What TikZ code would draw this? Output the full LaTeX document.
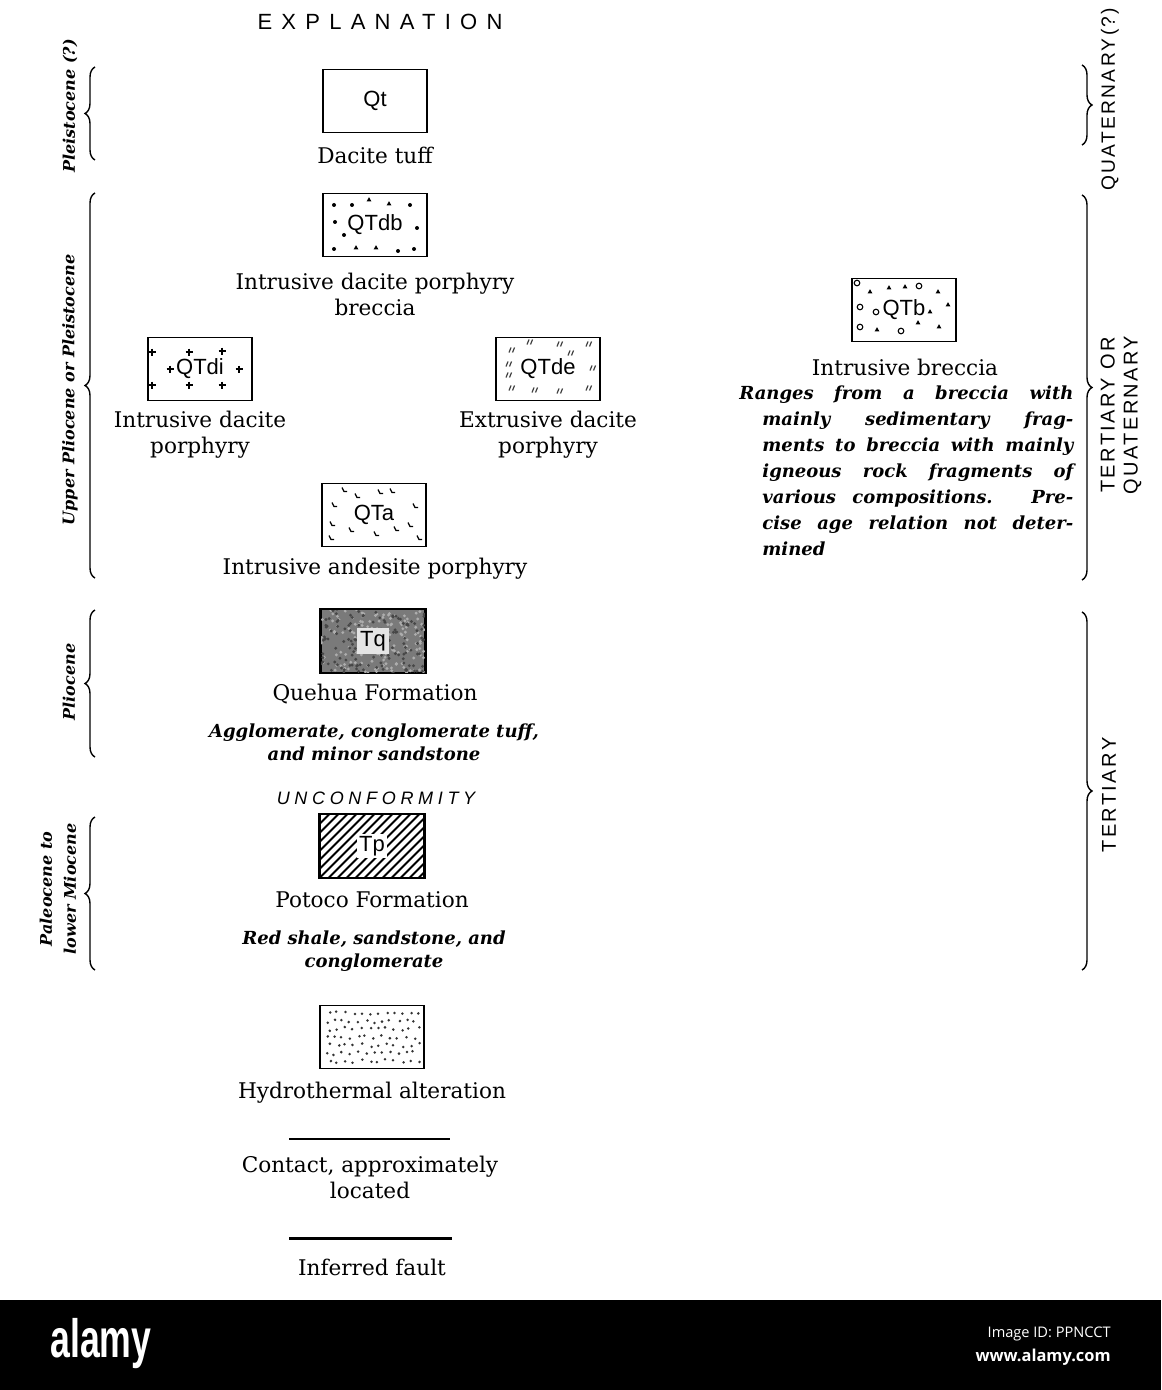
\documentclass[tikz,border=0pt]{standalone}
\usepackage{fontspec}
\setmainfont{DejaVu Serif}
\setsansfont{Liberation Sans}
\newfontfamily\titlefont[LetterSpace=42]{Liberation Sans}
\newfontfamily\unconffont[LetterSpace=26]{Liberation Sans}
\newfontfamily\erafont[LetterSpace=12]{Liberation Sans}
\newfontfamily\wmfont{Open Sans}
\usetikzlibrary{decorations.pathreplacing}
\newcommand\lgdot[2]{\fill (#1,#2) circle (1pt);}
\newcommand\lgtri[2]{\fill (#1,#2) ++(0,-2.8) -- ++(2.4,4.2) -- ++(-4.8,0) -- cycle;}
\newcommand\lgcirc[2]{\draw[line width=0.55pt] (#1,#2) circle (1.4pt);}
\newcommand\lgplus[2]{\draw[line width=0.65pt] (#1-3.5,#2) -- (#1+3.5,#2) (#1,#2-3.5) -- (#1,#2+3.5);}
\newcommand\lgdd[2]{\draw[line width=0.6pt, black!75] (#1-2,#2+2.5) -- (#1,#2-2.5) (#1+1.5,#2+2.5) -- (#1+3.5,#2-2.5);}
\newcommand\lgv[2]{\draw[line width=0.6pt] (#1-2,#2-2.5) -- (#1,#2+1.5) -- (#1+3,#2+1.5);}
\begin{document}
\begin{tikzpicture}[x=0.5pt,y=-0.5pt,
  legbox/.style={draw, line width=0.9pt, minimum width=52pt, minimum height=31.5pt, inner sep=0pt},
  code/.style={font=\sffamily\fontsize{11}{11}\selectfont, inner sep=1pt},
  lbl/.style={font=\fontsize{10.8}{13}\selectfont, align=center, inner sep=0pt},
  desc/.style={font=\fontsize{9}{11.5}\selectfont\bfseries\itshape, align=center, inner sep=0pt},
  agelbl/.style={font=\fontsize{8}{12}\selectfont\bfseries\itshape, rotate=90, align=center, inner sep=0pt},
  eralbl/.style={font=\erafont\fontsize{10}{11.5}\selectfont, rotate=90, align=center, inner sep=0pt},
  brace/.style={decorate, decoration={brace, amplitude=5pt}, line width=0.7pt},
  legline/.style={line width=#1}
]
\useasboundingbox (0,0) rectangle (1161,1390);
\fill[white] (0,0) rectangle (1161,1390);

% title
\node[font=\titlefont\fontsize{11}{11}\selectfont, inner sep=0pt] (title) at (380,22) {EXPLANATION};

% ---------------- Qt
\node[legbox] (Qt) at (375,101) {};
\node[code] (Qtl) at (Qt) {Qt};
\node[lbl] (Qtt) at (375,155) {Dacite tuff};

% ---------------- QTdb
\node[legbox] (QTdb) at (375,225) {};
\begin{scope}[shift={(QTdb.center)}]
  \lgdot{-41}{-20}\lgdot{-23}{-20}\lgtri{-6}{-25}\lgtri{14}{-21}\lgdot{35}{-20}
  \lgdot{-40}{-3}\lgdot{42}{3}\lgdot{-31}{10}
  \lgdot{-41}{24}\lgtri{-19}{23}\lgtri{1}{23}\lgdot{23}{26}\lgdot{39}{24}
\end{scope}
\node[code] (QTdbl) at (QTdb) {QTdb};
\node[lbl] (QTdbt) at (375,294) {Intrusive dacite porphyry\\breccia};

% ---------------- QTdi
\node[legbox] (QTdi) at (200,369) {};
\begin{scope}[shift={(QTdi.center)}]
  \lgplus{-11}{-17}\lgplus{22}{-18}\lgplus{-30}{0}\lgplus{39}{0}
  \lgplus{-11}{16}\lgplus{22}{16}\lgplus{-48}{-17}\lgplus{-48}{16}
\end{scope}
\node[code] (QTdil) at (QTdi) {QTdi};
\node[lbl] (QTdit) at (200,435) {Intrusive dacite\\porphyry};

% ---------------- QTde
\node[legbox] (QTde) at (548,369) {};
\begin{scope}[shift={(QTde.center)}]
  \lgdd{-37}{-19}\lgdd{-19}{-27}\lgdd{11}{-25}\lgdd{22}{-16}\lgdd{40}{-25}
  \lgdd{-40}{-5}\lgdd{-40}{6}\lgdd{44}{-1}
  \lgdd{-37}{19}\lgdd{-14}{21}\lgdd{11}{22}\lgdd{40}{19}
\end{scope}
\node[code] (QTdel) at (QTde) {QTde};
\node[lbl] (QTdet) at (548,435) {Extrusive dacite\\porphyry};

% ---------------- QTa
\node[legbox] (QTa) at (374,515) {};
\begin{scope}[shift={(QTa.center)}]
  \lgv{-30}{-25}\lgv{-17}{-19}\lgv{6}{-23}\lgv{18}{-24}
  \lgv{-40}{-10}\lgv{41}{-9}\lgv{-42}{9}\lgv{36}{10}
  \lgv{-23}{15}\lgv{2}{19}\lgv{22}{14}\lgv{-43}{23}\lgv{45}{23}
\end{scope}
\node[code] (QTal) at (QTa) {QTa};
\node[lbl] (QTat) at (375,569) {Intrusive andesite porphyry};

% ---------------- QTb
\node[legbox] (QTb) at (904,310) {};
\begin{scope}[shift={(QTb.center)}]
  \lgcirc{-47}{-27}\lgtri{-34}{-18}\lgtri{-15}{-22}\lgtri{1}{-23}\lgcirc{15}{-24}\lgtri{34}{-18}
  \lgcirc{-44}{-3}\lgcirc{-28}{2}\lgtri{26}{2}\lgtri{44}{-5}
  \lgcirc{-44}{17}\lgtri{-27}{20}\lgcirc{-3}{21}\lgtri{14}{13}\lgtri{35}{17}
\end{scope}
\node[code] (QTbl) at (QTb) {QTb};
\node[lbl] (QTbt) at (905,367) {Intrusive breccia};
\node[anchor=north west, text width=167pt, align=justify, inner sep=0pt,
      font=\fontsize{9}{13}\selectfont\bfseries\itshape] (QTbd) at (739,385)
  {\hangindent=11.5pt\hangafter=1 Ranges from a breccia with\linebreak
   mainly sedimentary frag-\linebreak
   ments to breccia with mainly\linebreak
   igneous rock fragments of\linebreak
   various compositions. Pre-\linebreak
   cise age relation not deter-\linebreak
   mined\par};

% ---------------- Tq
\node[legbox, fill=black!52] (Tq) at (373,641) {};
\begin{scope}
  \clip (Tq.south west) rectangle (Tq.north east);
  \pgfmathsetseed{11}
  \foreach \k in {1,...,140}{
    \pgfmathsetmacro\rx{rand*52}\pgfmathsetmacro\ry{rand*32}
    \fill[black!32] ([xshift=\rx*0.5pt, yshift=\ry*0.5pt]Tq.center) circle (0.8pt);}
  \foreach \k in {1,...,140}{
    \pgfmathsetmacro\rx{rand*52}\pgfmathsetmacro\ry{rand*32}
    \fill[black!72] ([xshift=\rx*0.5pt, yshift=\ry*0.5pt]Tq.center) circle (0.8pt);}
\end{scope}
\draw[line width=0.9pt] (Tq.south west) rectangle (Tq.north east);
\node[code, fill=black!10, inner sep=1.5pt] (Tql) at (Tq) {Tq};
\node[lbl] (Tqt) at (375,694) {Quehua Formation};
\node[desc] (Tqd) at (374,742) {Agglomerate, conglomerate tuff,\\and minor sandstone};

\node[font=\unconffont\itshape\fontsize{9}{9}\selectfont, inner sep=0pt] (unc) at (376,798) {UNCONFORMITY};

% ---------------- Tp
\node[legbox] (Tp) at (372,846) {};
\begin{scope}
  \clip (Tp.south west) rectangle (Tp.north east);
  \foreach \i in {-72,-63,...,108}
    \draw[line width=0.9pt] ([xshift=\i*0.5pt]Tp.south west) -- ++(80,-80);
\end{scope}
\draw[line width=0.9pt] (Tp.south west) rectangle (Tp.north east);
\node[code, fill=white, inner sep=1pt] (Tpl) at (Tp) {Tp};
\node[lbl] (Tpt) at (372,900) {Potoco Formation};
\node[desc] (Tpd) at (374,951) {Red shale, sandstone, and\\conglomerate};

% ---------------- Hydrothermal alteration
\node[legbox] (hy) at (372,1037) {};
\begin{scope}
  \pgfmathsetseed{5}
  \foreach \r in {-3,...,3}{
    \foreach \c in {-6,...,5}{
      \pgfmathsetmacro\rx{\c*8+mod(\r+10,2)*4+rand*2+2}
      \pgfmathsetmacro\ry{\r*8+rand*2}
      \fill[black!80] ([xshift=\rx*0.5pt, yshift=\ry*0.5pt]hy.center) circle (0.7pt);}}
\end{scope}
\node[lbl] (hyt) at (372,1093) {Hydrothermal alteration};

% ---------------- lines
\coordinate (c1) at (289,1139);
\coordinate (c2) at (450,1139);
\draw[legline=0.9pt] (c1) -- (c2);
\node[lbl] (ct) at (370,1177) {Contact, approximately\\located};
\coordinate (f1) at (289,1238);
\coordinate (f2) at (452,1238);
\draw[legline=1.5pt] (f1) -- (f2);
\node[lbl] (ft) at (372,1267) {Inferred fault};

% ---------------- left braces and age labels
\draw[brace] (95,160) -- (95,67);
\node[agelbl] (a1) at (70,106) {Pleistocene (?)};
\draw[brace] (95,578) -- (95,193);
\node[agelbl] (a2) at (70,390) {Upper Pliocene or Pleistocene};
\draw[brace] (95,757) -- (95,610);
\node[agelbl] (a3) at (69,682) {Pliocene};
\draw[brace] (95,970) -- (95,817);
\node[agelbl] (a4) at (58,889) {Paleocene to\\lower Miocene};

% ---------------- right braces and era labels
\draw[brace] (1082,65) -- (1082,145);
\node[eralbl, anchor=west, font=\erafont\fontsize{9.6}{11}\selectfont] (e1) at (1110,191) {QUATERNARY(?)};
\draw[brace] (1082,195) -- (1082,580);
\node[eralbl] (e2) at (1121,415) {TERTIARY OR\\QUATERNARY};
\draw[brace] (1082,612) -- (1082,970);
\node[eralbl] (e3) at (1109,795) {TERTIARY};

% ---------------- watermark bar
\fill[black] (0,1300) rectangle (1161,1390);
\node[anchor=base west, inner sep=0pt, text=white] (wm1) at (50,1357)
  {\scalebox{0.66}[1]{\fontsize{27}{27}\selectfont\sffamily\bfseries alamy}};
\node[anchor=base east, inner sep=0pt, text=white, font=\wmfont\fontsize{7.3}{7.3}\selectfont] (wm2) at (1111,1337) {Image ID: PPNCCT};
\node[anchor=base east, inner sep=0pt, text=white, font=\wmfont\bfseries\fontsize{8.2}{8.2}\selectfont] (wm3) at (1111,1361) {www.alamy.com};
\end{tikzpicture}
\end{document}
